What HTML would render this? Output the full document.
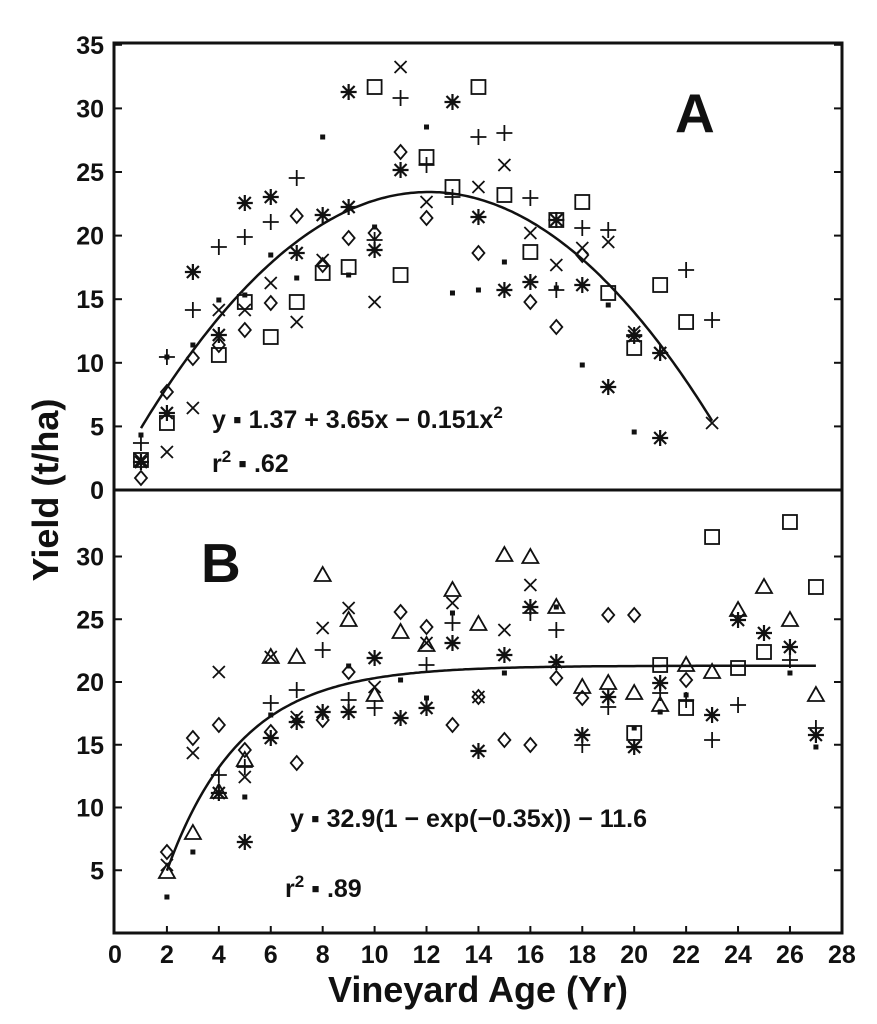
<!DOCTYPE html>
<html><head><meta charset="utf-8"><style>
html,body{margin:0;padding:0;background:#fff;}
svg{display:block;}
text{font-family:"Liberation Sans",sans-serif;font-weight:bold;fill:#111;}
</style></head><body>
<svg id="s" width="877" height="1024" viewBox="0 0 877 1024" xmlns="http://www.w3.org/2000/svg">
<rect x="0" y="0" width="877" height="1024" fill="#fff"/>
<g stroke="#111" stroke-width="3" fill="none">
<rect x="114" y="43" width="728" height="890"/>
<line x1="114" y1="490" x2="842" y2="490"/>
</g>
<g id="ticks" stroke="#111" stroke-width="2"></g>
<g id="labels" font-size="25"></g>
<g id="pts" stroke="#111" stroke-width="1.8" fill="none"></g>
<path id="cA" stroke="#111" stroke-width="2.5" fill="none"/>
<path id="cB" stroke="#111" stroke-width="2.5" fill="none"/>
<text x="675" y="132" font-size="55">A</text>
<text x="201" y="582" font-size="55">B</text>
<text x="212" y="428" font-size="25">y ▪ 1.37 + 3.65x − 0.151x<tspan dy="-10" font-size="17">2</tspan></text>
<text x="212" y="472" font-size="25">r<tspan dy="-10" font-size="17">2</tspan><tspan dy="10"> ▪ .62</tspan></text>
<text x="290" y="827" font-size="25">y ▪ 32.9(1 − exp(−0.35x)) − 11.6</text>
<text x="285" y="897" font-size="25">r<tspan dy="-10" font-size="17">2</tspan><tspan dy="10"> ▪ .89</tspan></text>
<text transform="translate(58,490) rotate(-90)" text-anchor="middle" font-size="36">Yield (t/ha)</text>
<text x="478" y="1002" text-anchor="middle" font-size="36">Vineyard Age (Yr)</text>
</svg>
<script>
const NS="http://www.w3.org/2000/svg";
function el(p,t,a,txt){const e=document.createElementNS(NS,t);for(const k in a)e.setAttribute(k,a[k]);if(txt!=null)e.textContent=txt;document.getElementById(p).appendChild(e);return e;}
const X=v=>115+25.96*v, YA=v=>490-12.72*v, YB=v=>933-12.55*v;
for(let v=0;v<=28;v+=2){if(v>0&&v<28)el('ticks','line',{x1:X(v),y1:933,x2:X(v),y2:926});
 el('labels','text',{x:X(v),y:963,'text-anchor':'middle'},v);}
for(let v=0;v<=35;v+=5){el('ticks','line',{x1:114,y1:YA(v),x2:122,y2:YA(v)});el('ticks','line',{x1:834,y1:YA(v),x2:842,y2:YA(v)});el('labels','text',{x:104,y:YA(v)+9,'text-anchor':'end'},v);}
for(let v=5;v<=30;v+=5){el('ticks','line',{x1:114,y1:YB(v),x2:122,y2:YB(v)});el('ticks','line',{x1:834,y1:YB(v),x2:842,y2:YB(v)});el('labels','text',{x:104,y:YB(v)+9,'text-anchor':'end'},v);}
let d="";for(let x=1;x<=23.01;x+=0.1){const y=1.37+3.65*x-0.151*x*x;d+=(d?"L":"M")+X(x).toFixed(1)+","+YA(y).toFixed(1);}
document.getElementById('cA').setAttribute('d',d);
d="";for(let x=2;x<=27.01;x+=0.1){const y=32.9*(1-Math.exp(-0.35*x))-11.6;d+=(d?"L":"M")+X(x).toFixed(1)+","+YB(y).toFixed(1);}
document.getElementById('cB').setAttribute('d',d);
const M={
s:(x,y)=>el('pts','rect',{x:x-7,y:y-7,width:14,height:14}),
p:(x,y)=>el('pts','path',{d:`M${x-8},${y}H${x+8}M${x},${y-8}V${y+8}`}),
x:(x,y)=>el('pts','path',{d:`M${x-6},${y-6}L${x+6},${y+6}M${x-6},${y+6}L${x+6},${y-6}`}),
a:(x,y)=>el('pts','path',{d:`M${x-8},${y}H${x+8}M${x},${y-8}V${y+8}M${x-6},${y-6}L${x+6},${y+6}M${x-6},${y+6}L${x+6},${y-6}`,'stroke-width':2.2}),
d:(x,y)=>el('pts','path',{d:`M${x},${y-7}L${x+6},${y}L${x},${y+7}L${x-6},${y}Z`}),
o:(x,y)=>el('pts','rect',{x:x-2.5,y:y-2.5,width:5,height:5,fill:'#111',stroke:'none'}),
t:(x,y)=>el('pts','path',{d:`M${x},${y-8}L${x+8},${y+6}L${x-8},${y+6}Z`})};
const A={
1:"d478 s460 a462 x460 p443 o435",
2:"a413 s423 d392 p357 o357 x452",
3:"a272 p310 x408 d358 o345",
4:"p247 x310 o300 a335 d345 s355",
5:"a203 p237 s302 x310 o295 d330",
6:"a197 p222 o255 x283 d303 s337",
7:"p178 d216 a253 o278 s302 x322",
8:"o137 a215 x260 d265 s273",
9:"a92 a207 x207 d238 s267 o275",
10:"s87 o227 d233 p240 a250 x302",
11:"x67 p98 d152 a170 s275",
12:"o127 s157 p165 x202 d218",
13:"a102 s187 p197 o293",
14:"s87 p137 x187 a217 d253 o290",
15:"p133 x165 s195 o262 a290",
16:"p198 x233 s252 a282 d302",
17:"s220 a220 x265 p290 o288 d327",
18:"s202 p228 x248 d255 a285 o365",
19:"p230 x242 s293 o305 a387",
20:"p335 s348 a336 x332 o432",
21:"s285 x353 a353 a438",
22:"p270 s322",
23:"p320 x423"};
const B={
2:"o897 t872 d852 x865",
3:"t833 o852 d738 x753",
4:"x672 d725 p775 a793 t792",
5:"d750 t760 p767 x777 o797 a842",
6:"t657 x657 p703 o715 d732 a738",
7:"t657 p690 x717 a722 d763",
8:"t575 x628 p650 a712 d720",
9:"x608 t620 o666 d672 a712 p700",
10:"a658 x687 t695 p708",
11:"d612 t632 o680 a718",
12:"d627 t645 x643 p665 o698 a708",
13:"t590 x603 o613 p623 a643 d725",
14:"t624 x697 d697 a751",
15:"t555 x630 a655 o673 d740",
16:"t557 x585 a607 p613 d745",
17:"t607 o607 p630 a662 d678",
18:"t687 d698 a735 p745",
19:"d615 t683 a697 p707",
20:"d615 t693 s733 o728 a747",
21:"s665 a683 p693 t705 o712",
22:"t665 d680 o695 s708 p700",
23:"s537 t672 a715 p740",
24:"s668 t610 a620 p705",
25:"t587 a633 s652",
26:"s522 t620 a647 o673 p660",
27:"s587 t695 p728 a735 o747"};
for(const [xv,str] of Object.entries(A))str.split(" ").forEach(t=>M[t[0]](X(+xv),+t.slice(1)));
for(const [xv,str] of Object.entries(B))str.split(" ").forEach(t=>M[t[0]](X(+xv),+t.slice(1)));
</script>
</body></html>
